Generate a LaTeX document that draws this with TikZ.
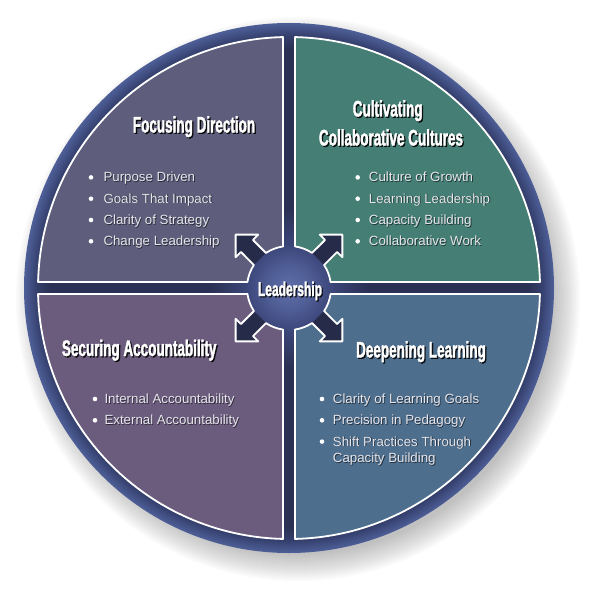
\documentclass[tikz,border=0pt]{standalone}
\usepackage{fontspec}
\setmainfont{Liberation Sans}
\newfontfamily\titlefont{Liberation Sans}[FakeStretch=0.6,FakeBold=1.6]
\definecolor{cTL}{HTML}{5E5D7B}
\definecolor{cTR}{HTML}{447E74}
\definecolor{cBL}{HTML}{6B5C7E}
\definecolor{cBR}{HTML}{4E6E8D}
\definecolor{glowC}{HTML}{6170AA}
\definecolor{glowM}{HTML}{4E5C94}
\definecolor{glowE}{HTML}{3A4477}
\definecolor{chan}{HTML}{2B3154}
\definecolor{ringD}{HTML}{343F6C}
\definecolor{ringL}{HTML}{4E5F98}
\definecolor{arrowC}{HTML}{262B4A}
\definecolor{bodyC}{HTML}{E6E6EC}
\pgfdeclareradialshading{bgshade}{\pgfpoint{0bp}{0bp}}{color(0bp)=(glowC); color(2.2bp)=(glowM); color(4.2bp)=(glowE); color(7.5bp)=(chan); color(22.6bp)=(chan); color(23.8bp)=(ringD); color(25bp)=(ringL); color(50bp)=(ringL)}
\tikzset{
  bodytxt/.style={font=\fontsize{13.3}{15}\selectfont, text=bodyC, inner sep=0pt, anchor=base west},
  bodyshadow/.style={bodytxt, text=black, opacity=0.55},
  titletxt/.style={font=\titlefont\bfseries\fontsize{22.5}{26}\selectfont, text=white, inner sep=0pt, anchor=base},
  titleshadow/.style={titletxt, text=black, opacity=0.85},
  bulletdot/.style={circle, fill=white, draw=none, inner sep=0pt, minimum size=4.6pt},
  panelshape/.style={draw=white, line width=1.8pt, line join=round},
}
\begin{document}
\begin{tikzpicture}[x=1pt,y=-1pt]
\useasboundingbox (0,0) rectangle (591,591);
% soft drop shadow
\foreach \k in {0,...,13}
  \fill[black, opacity=0.02] (298,299) circle[radius={256+2*\k}];
% ring, channels and central glow
\shade[shading=bgshade] (289,288) circle[radius=265];
% arrows and quadrant panels
\begin{scope}[shift={(289,288)}]
\foreach \r/\c in {0/cBR, 90/cTR, 180/cTL, 270/cBL} {
  \begin{scope}[rotate=\r]
    \fill[arrowC] (23.05,35.07) -- (36.06,48.08) -- (30.76,53.39) -- (53.39,53.39)
       -- (53.39,30.76) -- (48.08,36.06) -- (35.07,23.05) -- cycle;
    \filldraw[panelshape, fill=\c] (6,41.57) -- (6,250.93)
       arc[start angle=88.63, end angle=1.37, radius=251] -- (41.57,6)
       arc[start angle=8.2, end angle=33.3, radius=42]
       -- (48.08,36.06) -- (53.39,30.76) -- (53.39,53.39) -- (30.76,53.39)
       -- (36.06,48.08) -- (23.05,35.07)
       arc[start angle=56.7, end angle=81.8, radius=42] -- cycle;
  \end{scope}
}
\end{scope}
% titles
\node[titleshadow] (t1s) at (195.3,133.8) {Focusing Direction};
\node[titletxt] (t1) at (194,132.5) {Focusing Direction};
\node[titleshadow] (t2as) at (389,117.8) {Cultivating};
\node[titletxt] (t2a) at (387.7,116.5) {Cultivating};
\node[titleshadow] (t2bs) at (392.3,146.8) {Collaborative Cultures};
\node[titletxt] (t2b) at (391,145.5) {Collaborative Cultures};
\node[titleshadow] (t3s) at (140.5,357.3) {Securing Accountability};
\node[titletxt] (t3) at (139.2,356) {Securing Accountability};
\node[titleshadow] (t4s) at (422.3,358.8) {Deepening Learning};
\node[titletxt] (t4) at (421,357.5) {Deepening Learning};
\node[titleshadow, font=\titlefont\bfseries\fontsize{20}{24}\selectfont] (lds) at (291.2,297.2) {Leadership};
\node[titletxt, font=\titlefont\bfseries\fontsize{20}{24}\selectfont] (ld) at (290,296) {Leadership};
% bullet lists
\foreach \t [count=\i] in {Purpose Driven, Goals That Impact, Clarity of Strategy, Change Leadership} {
  \pgfmathsetmacro\yb{181.8+(\i-1)*21.3}
  \node[bulletdot] (tld\i) at (91,\yb-4.4) {};
  \node[bodyshadow] (tls\i) at (104.1,\yb+0.8) {\t};
  \node[bodytxt] (tl\i) at (103.3,\yb) {\t};
}
\foreach \t [count=\i] in {Culture of Growth, Learning Leadership, Capacity Building, Collaborative Work} {
  \pgfmathsetmacro\yb{181.8+(\i-1)*21.3}
  \node[bulletdot] (trd\i) at (357.7,\yb-4.4) {};
  \node[bodyshadow] (trs\i) at (369.5,\yb+0.8) {\t};
  \node[bodytxt] (tr\i) at (368.7,\yb) {\t};
}
\foreach \t [count=\i] in {Internal Accountability, External Accountability} {
  \pgfmathsetmacro\yb{403.4+(\i-1)*21.3}
  \node[bulletdot] (bld\i) at (95,\yb-4.4) {};
  \node[bodyshadow] (bls\i) at (105.1,\yb+0.8) {\t};
  \node[bodytxt] (bl\i) at (104.3,\yb) {\t};
}
\foreach \t [count=\i] in {Clarity of Learning Goals, Precision in Pedagogy, Shift Practices Through} {
  \pgfmathsetmacro\yb{403.4+(\i-1)*21.3}
  \node[bulletdot] (brd\i) at (322,\yb-4.4) {};
  \node[bodyshadow] (brs\i) at (333.5,\yb+0.8) {\t};
  \node[bodytxt] (br\i) at (332.7,\yb) {\t};
}
\node[bodyshadow] (brs4) at (333.5,463.2) {Capacity Building};
\node[bodytxt] (br4) at (332.7,462.4) {Capacity Building};
\end{tikzpicture}
\end{document}
